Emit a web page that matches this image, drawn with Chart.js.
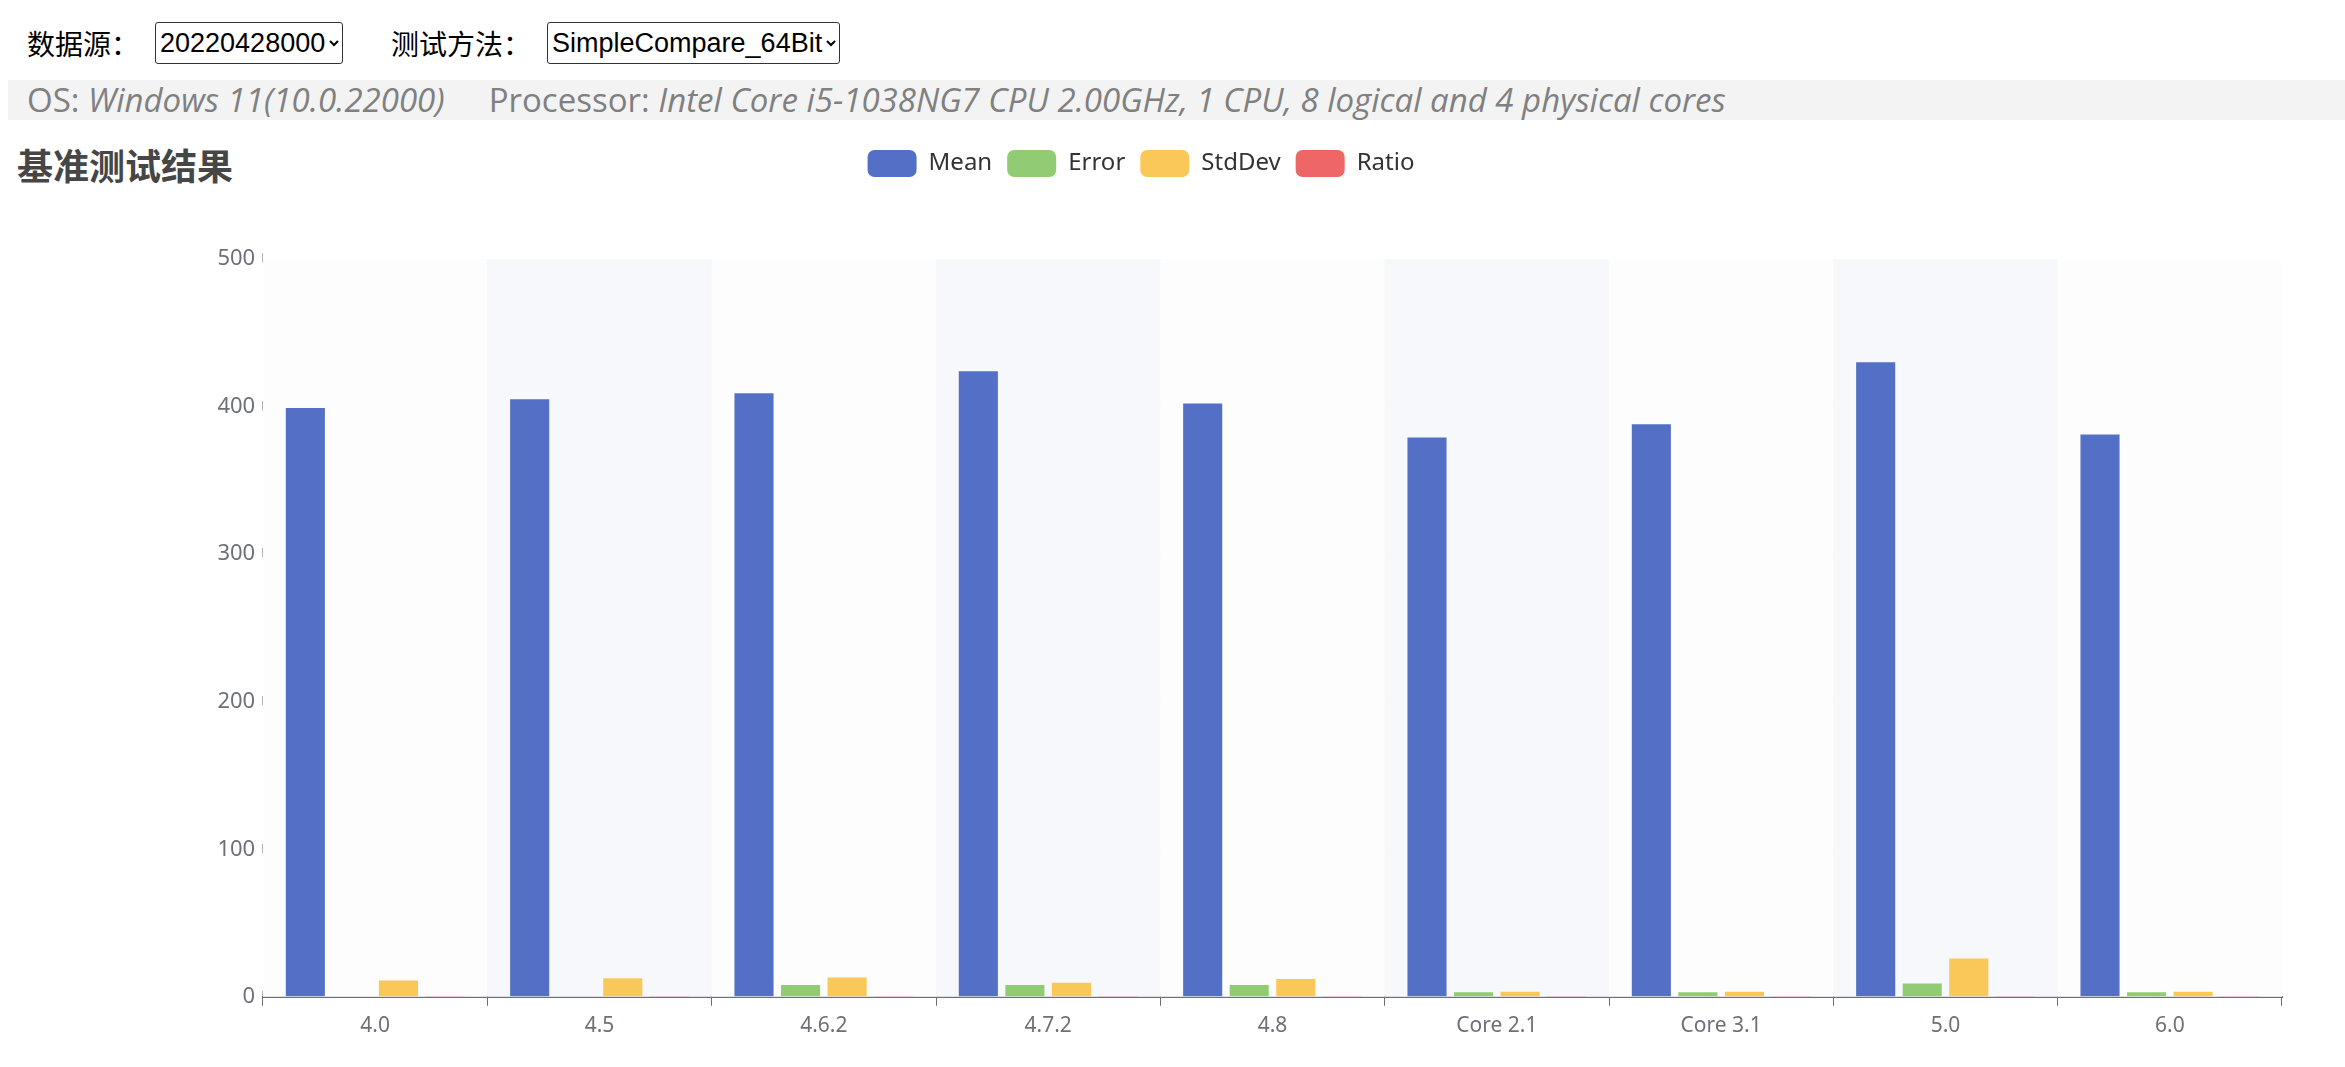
<!DOCTYPE html>
<html><head><meta charset="utf-8">
<script src="https://cdn.jsdelivr.net/npm/chart.js@4"></script>
<style>
body{margin:0;background:#fff;font-family:"Noto Sans CJK SC","Noto Sans",sans-serif;width:2345px;height:1067px;overflow:hidden;position:relative}
.top{position:absolute;left:27px;top:22px;font-size:28px;color:#000;display:flex;align-items:center}
select{font-family:"Liberation Sans",Arial,sans-serif;font-size:27px;height:42px;margin:0 48px 0 16px;border:1.5px solid #333;border-radius:3px;background:#fff}
.info{position:absolute;left:8px;top:80px;width:2337px;height:40px;background:#f3f3f3;color:#808080;font-family:"Open Sans",sans-serif;font-size:33px;line-height:40px;padding-left:19px;box-sizing:border-box;white-space:nowrap}
.info i{margin-right:44px}
.title{position:absolute;left:17px;top:138px;font-size:36px;font-weight:bold;color:#464646}
#wrap{position:absolute;left:0;top:135px;width:2345px;height:932px}
</style></head><body>
<div class="top">数据源：<select><option>20220428000</option></select>测试方法：<select><option>SimpleCompare_64Bit</option></select></div>
<div class="info">OS: <i>Windows 11(10.0.22000)</i>Processor: <i>Intel Core i5-1038NG7 CPU 2.00GHz, 1 CPU, 8 logical and 4 physical cores</i></div>
<div class="title">基准测试结果</div>
<div id="wrap"><canvas id="c"></canvas></div>
<script>
const categories=["4.0","4.5","4.6.2","4.7.2","4.8","Core 2.1","Core 3.1","5.0","6.0"];
const meanVals=[399,405,409,424,402,379,388,430,381];
const errorVals=[0.3,0.3,8,8,8,3,3,9,3];
const stdDevVals=[11,12.5,13,9.5,12,3.5,3.5,26,3.5];
const ratioVals=[0.6,0.6,0.6,0.6,0.6,0.6,0.6,0.6,0.6];
const yStep=100, yMax=500, yUnit=' us';

const bands={id:'bands',beforeDatasetsDraw(ch){const x=ch.scales.x,a=ch.chartArea,c=ch.ctx;const w=(a.right-a.left)/categories.length;
 categories.forEach((_,i)=>{c.fillStyle=i%2?'#f6f8fc':'#fdfdfd';const cx=x.getPixelForValue(i);c.fillRect(cx-w/2,a.top,w,a.bottom-a.top);});}};
const legendPad={id:'legendPad',beforeInit(ch){const f=ch.legend.fit;ch.legend.fit=function(){f.call(this);this.height=124;};}};

const ds=(l,d,col)=>({label:l,data:d,backgroundColor:col,categoryPercentage:0.83,barPercentage:0.84});
new Chart(document.getElementById('c'),{type:'bar',
 data:{labels:categories,datasets:[ds('Mean',meanVals,'#5470c6'),ds('Error',errorVals,'#91cc75'),ds('StdDev',stdDevVals,'#fac858'),ds('Ratio',ratioVals,'#ee6666')]},
 options:{responsive:true,maintainAspectRatio:false,animation:false,
  layout:{padding:{top:0,right:63,bottom:20,left:0}},
  plugins:{tooltip:{enabled:false},legend:{position:'top',labels:{boxWidth:49,boxHeight:27,useBorderRadius:true,borderRadius:7,padding:15,color:'#333',font:{size:24,family:'"Noto Sans"'}}}},
  scales:{
   x:{grid:{drawOnChartArea:false,color:'#6e7079',tickLength:9,offset:true},border:{color:'#6e7079',width:2},ticks:{color:'#6e7079',padding:8,font:{size:21,family:'"Noto Sans"'}}},
   y:{min:0,max:yMax,afterFit(s){s.width=263;},
      grid:{color:'#e0e6f1',drawTicks:false},border:{display:false},
      ticks:{stepSize:yStep,padding:-22,color:'#6e7079',font:{size:22,family:'"Noto Sans"'},callback:function(v){return v+yUnit;}}}
  }},plugins:[bands,legendPad]});
</script></body></html>
